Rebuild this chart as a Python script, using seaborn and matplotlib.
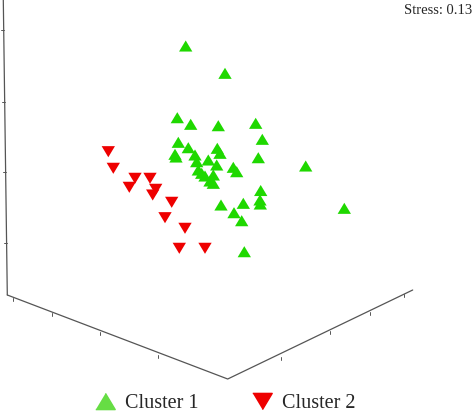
import numpy as np
import pandas as pd
import matplotlib
matplotlib.use("Agg")
import matplotlib.pyplot as plt
import seaborn as sns
from matplotlib.lines import Line2D

# projected MDS coordinates (screen units)
c1_x = [185.7, 225.0, 177.3, 190.7, 218.3, 255.7, 262.3, 178.3, 188.3, 175.0,
        176.0, 217.3, 220.0, 258.3, 195.0, 196.7, 208.3, 216.7, 233.3, 236.7,
        198.3, 201.7, 213.3, 210.0, 213.3, 205.0, 305.7, 260.7, 260.0, 260.3,
        221.0, 243.3, 234.0, 241.7, 344.3, 244.3]
c1_y = [46.0, 73.3, 117.7, 124.3, 125.7, 123.3, 139.3, 142.3, 147.7, 154.3,
        157.0, 148.3, 153.3, 157.7, 155.0, 161.7, 160.0, 165.0, 167.3, 171.7,
        170.0, 173.3, 175.0, 181.0, 183.3, 176.0, 166.0, 190.5, 200.0, 204.0,
        205.0, 203.3, 212.7, 220.7, 208.3, 251.7]
c2_x = [108.3, 113.3, 135.0, 150.0, 129.3, 155.7, 152.7, 171.7, 165.0, 185.0,
        179.3, 205.0]
c2_y = [151.7, 168.3, 178.3, 178.3, 187.3, 189.3, 195.0, 202.3, 217.7, 228.3,
        248.3, 248.3]

# frame of the 3d box (projected)
vert_axis_x = [3.3, 7.3]
vert_axis_y = [0.0, 295.0]
floor_x = [7.3, 227.7, 412.7]
floor_y = [295.0, 379.0, 290.0]
left_ticks_y = [30, 102, 172, 243]
floor_left_ticks = [(12.7, 298), (52, 313), (100, 332), (158, 355)]
floor_right_ticks = [(281, 357), (330, 331), (370, 312), (404, 294)]

stress = 0.13

df = pd.DataFrame({
    "dim1": c1_x + c2_x,
    "dim2": c1_y + c2_y,
    "cluster": ["Cluster 1"] * len(c1_x) + ["Cluster 2"] * len(c2_x),
})

sns.set_style("white")
plt.rcParams["font.family"] = ["Liberation Serif", "DejaVu Serif"]

up = [(-0.6, -0.5), (0.6, -0.5), (0.0, 0.5)]
down = [(-0.6, 0.5), (0.6, 0.5), (0.0, -0.5)]
green = "#1fd800"
red = "#ee0000"

fig = plt.figure(figsize=(4.74, 4.16), dpi=100)
ax = fig.add_axes([0, 0, 1, 1])

# box frame
ax.plot(vert_axis_x, vert_axis_y, color="#555555", lw=0.9)
ax.plot(floor_x, floor_y, color="#555555", lw=0.9)
for ty in left_ticks_y:
    tx = np.interp(ty, vert_axis_y, vert_axis_x)
    ax.plot([tx - 3, tx], [ty, ty], color="#555555", lw=0.7)
for tx, ty in floor_left_ticks + floor_right_ticks:
    ax.plot([tx, tx], [ty, ty + 2.5], color="#555555", lw=0.7)

sns.scatterplot(data=df, x="dim1", y="dim2", hue="cluster", style="cluster",
                palette={"Cluster 1": green, "Cluster 2": red},
                markers={"Cluster 1": up, "Cluster 2": down},
                s=92, linewidth=0, legend=False, ax=ax, zorder=3)

ax.set_xlim(0, 474)
ax.set_ylim(416, 0)
ax.axis("off")

ax.text(472, 10, f"Stress: {stress}", fontsize=10.5, ha="right", va="center")

handles = [
    Line2D([], [], ls="", marker=up, color="#66dd44", markersize=14),
    Line2D([], [], ls="", marker=down, color=red, markersize=14),
]
ax.legend(handles, ["Cluster 1", "Cluster 2"], ncol=2, frameon=False,
          loc="center", bbox_to_anchor=(0.473, 0.03), fontsize=14.5,
          handletextpad=0.35, columnspacing=2.6, handlelength=1.2)

fig.savefig("out.png", dpi=100)
